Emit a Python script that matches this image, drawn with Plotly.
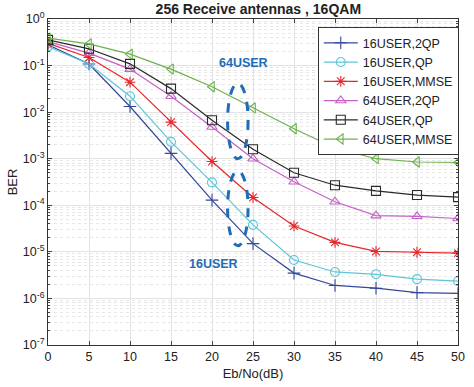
import plotly.graph_objects as go

snr_db = [0, 5, 10, 15, 20, 25, 30, 35, 40, 45, 50]

ber_16_2qp = [0.28, 0.108, 0.0132, 1.3e-3, 1.29e-4, 1.5e-5, 3.5e-6, 1.9e-6, 1.66e-6, 1.33e-6, 1.28e-6]
ber_16_qp = [0.256, 0.108, 0.022, 2.3e-3, 3.1e-4, 3.8e-5, 6.7e-6, 3.7e-6, 3.3e-6, 2.6e-6, 2.35e-6]
ber_16_mmse = [0.30, 0.149, 0.044, 6.1e-3, 8.7e-4, 1.47e-4, 3.6e-5, 1.6e-5, 1.02e-5, 9.8e-6, 9.4e-6]
ber_64_2qp = [0.327, 0.185, 0.084, 0.022, 4.8e-3, 1.0e-3, 3.2e-4, 1.19e-4, 6.0e-5, 5.8e-5, 5.2e-5]
ber_64_qp = [0.356, 0.229, 0.109, 0.032, 6.7e-3, 1.6e-3, 5.0e-4, 2.7e-4, 2.04e-4, 1.66e-4, 1.5e-4]
ber_64_mmse = [0.387, 0.292, 0.176, 0.084, 0.035, 0.0123, 4.4e-3, 1.7e-3, 1.0e-3, 8.5e-4, 8.3e-4]

series_names = ["16USER,2QP", "16USER,QP", "16USER,MMSE", "64USER,2QP", "64USER,QP", "64USER,MMSE"]
series_values = [ber_16_2qp, ber_16_qp, ber_16_mmse, ber_64_2qp, ber_64_qp, ber_64_mmse]
colors = ["#34479a", "#5cc6d8", "#e5262b", "#c461c4", "#2a2a2a", "#6cb24c"]
symbols = ["cross-thin-open", "circle-open", "asterisk-open", "triangle-up-open", "square-open", "triangle-left-open"]

ytick_vals = [1, 1e-1, 1e-2, 1e-3, 1e-4, 1e-5, 1e-6, 1e-7]
ytick_text = ["10<sup>0</sup>", "10<sup>-1</sup>", "10<sup>-2</sup>", "10<sup>-3</sup>",
              "10<sup>-4</sup>", "10<sup>-5</sup>", "10<sup>-6</sup>", "10<sup>-7</sup>"]
xtick_vals = [0, 5, 10, 15, 20, 25, 30, 35, 40, 45, 50]

fig = go.Figure()
for name, vals, c, s in zip(series_names, series_values, colors, symbols):
    fig.add_trace(go.Scatter(
        x=snr_db, y=vals, name=name, mode="lines+markers",
        line=dict(color=c, width=1.2),
        marker=dict(symbol=s, size=9, color=c, line=dict(color=c, width=1.1)),
    ))

font_family = "Liberation Sans, Arial, sans-serif"
fig.update_layout(
    width=474, height=387,
    margin=dict(l=48, r=9, t=19, b=40),
    paper_bgcolor="white", plot_bgcolor="white",
    font=dict(family=font_family, size=12, color="#222"),
    title=dict(text="<b>256 Receive antennas , 16QAM</b>", x=0.545, xanchor="center",
               y=0.99, yanchor="top", font=dict(size=14, color="#222")),
    legend=dict(x=0.658, y=0.975, xanchor="left", yanchor="top",
                bgcolor="white", bordercolor="#333", borderwidth=1,
                font=dict(size=12.5, color="#222"), tracegroupgap=0,
                itemwidth=34),
    showlegend=True,
)
fig.update_xaxes(
    range=[0, 50], tickvals=xtick_vals, ticks="inside", ticklen=4,
    showline=True, linecolor="#333", linewidth=1, mirror="allticks",
    showgrid=True, gridcolor="#e3e3e3", gridwidth=1, zeroline=False,
    title=dict(text="Eb/No(dB)", standoff=5, font=dict(size=13)),
    tickfont=dict(size=12.5),
)
fig.update_yaxes(
    type="log", range=[-7, 0], tickvals=ytick_vals, ticktext=ytick_text,
    ticks="inside", ticklen=4,
    showline=True, linecolor="#333", linewidth=1, mirror="allticks",
    showgrid=True, gridcolor="#e3e3e3", gridwidth=1, zeroline=False,
    minor=dict(dtick="D1", showgrid=True, gridcolor="#e6e6e6", griddash="dot",
               ticks="inside", ticklen=2),
    title=dict(text="BER", standoff=2, font=dict(size=13)),
    tickfont=dict(size=12.5),
)

ell_color = "#1e6db6"
fig.add_shape(type="circle", xref="x", yref="y", x0=21.9, x1=24.4, y0=10**-3.0, y1=10**-1.38,
              line=dict(color=ell_color, width=3, dash="dash"))
fig.add_shape(type="circle", xref="x", yref="y", x0=21.9, x1=24.4, y0=10**-4.87, y1=10**-3.26,
              line=dict(color=ell_color, width=3, dash="dash"))
fig.add_annotation(x=23.9, y=-0.94, xref="x", yref="y", text="<b>64USER</b>", showarrow=False,
                   font=dict(size=12.5, color=ell_color))
fig.add_annotation(x=20.2, y=-5.27, xref="x", yref="y", text="<b>16USER</b>", showarrow=False,
                   font=dict(size=12.5, color=ell_color))

fig.write_html("out.html", config={"displayModeBar": False},
               post_script="document.body.style.margin='0';")
